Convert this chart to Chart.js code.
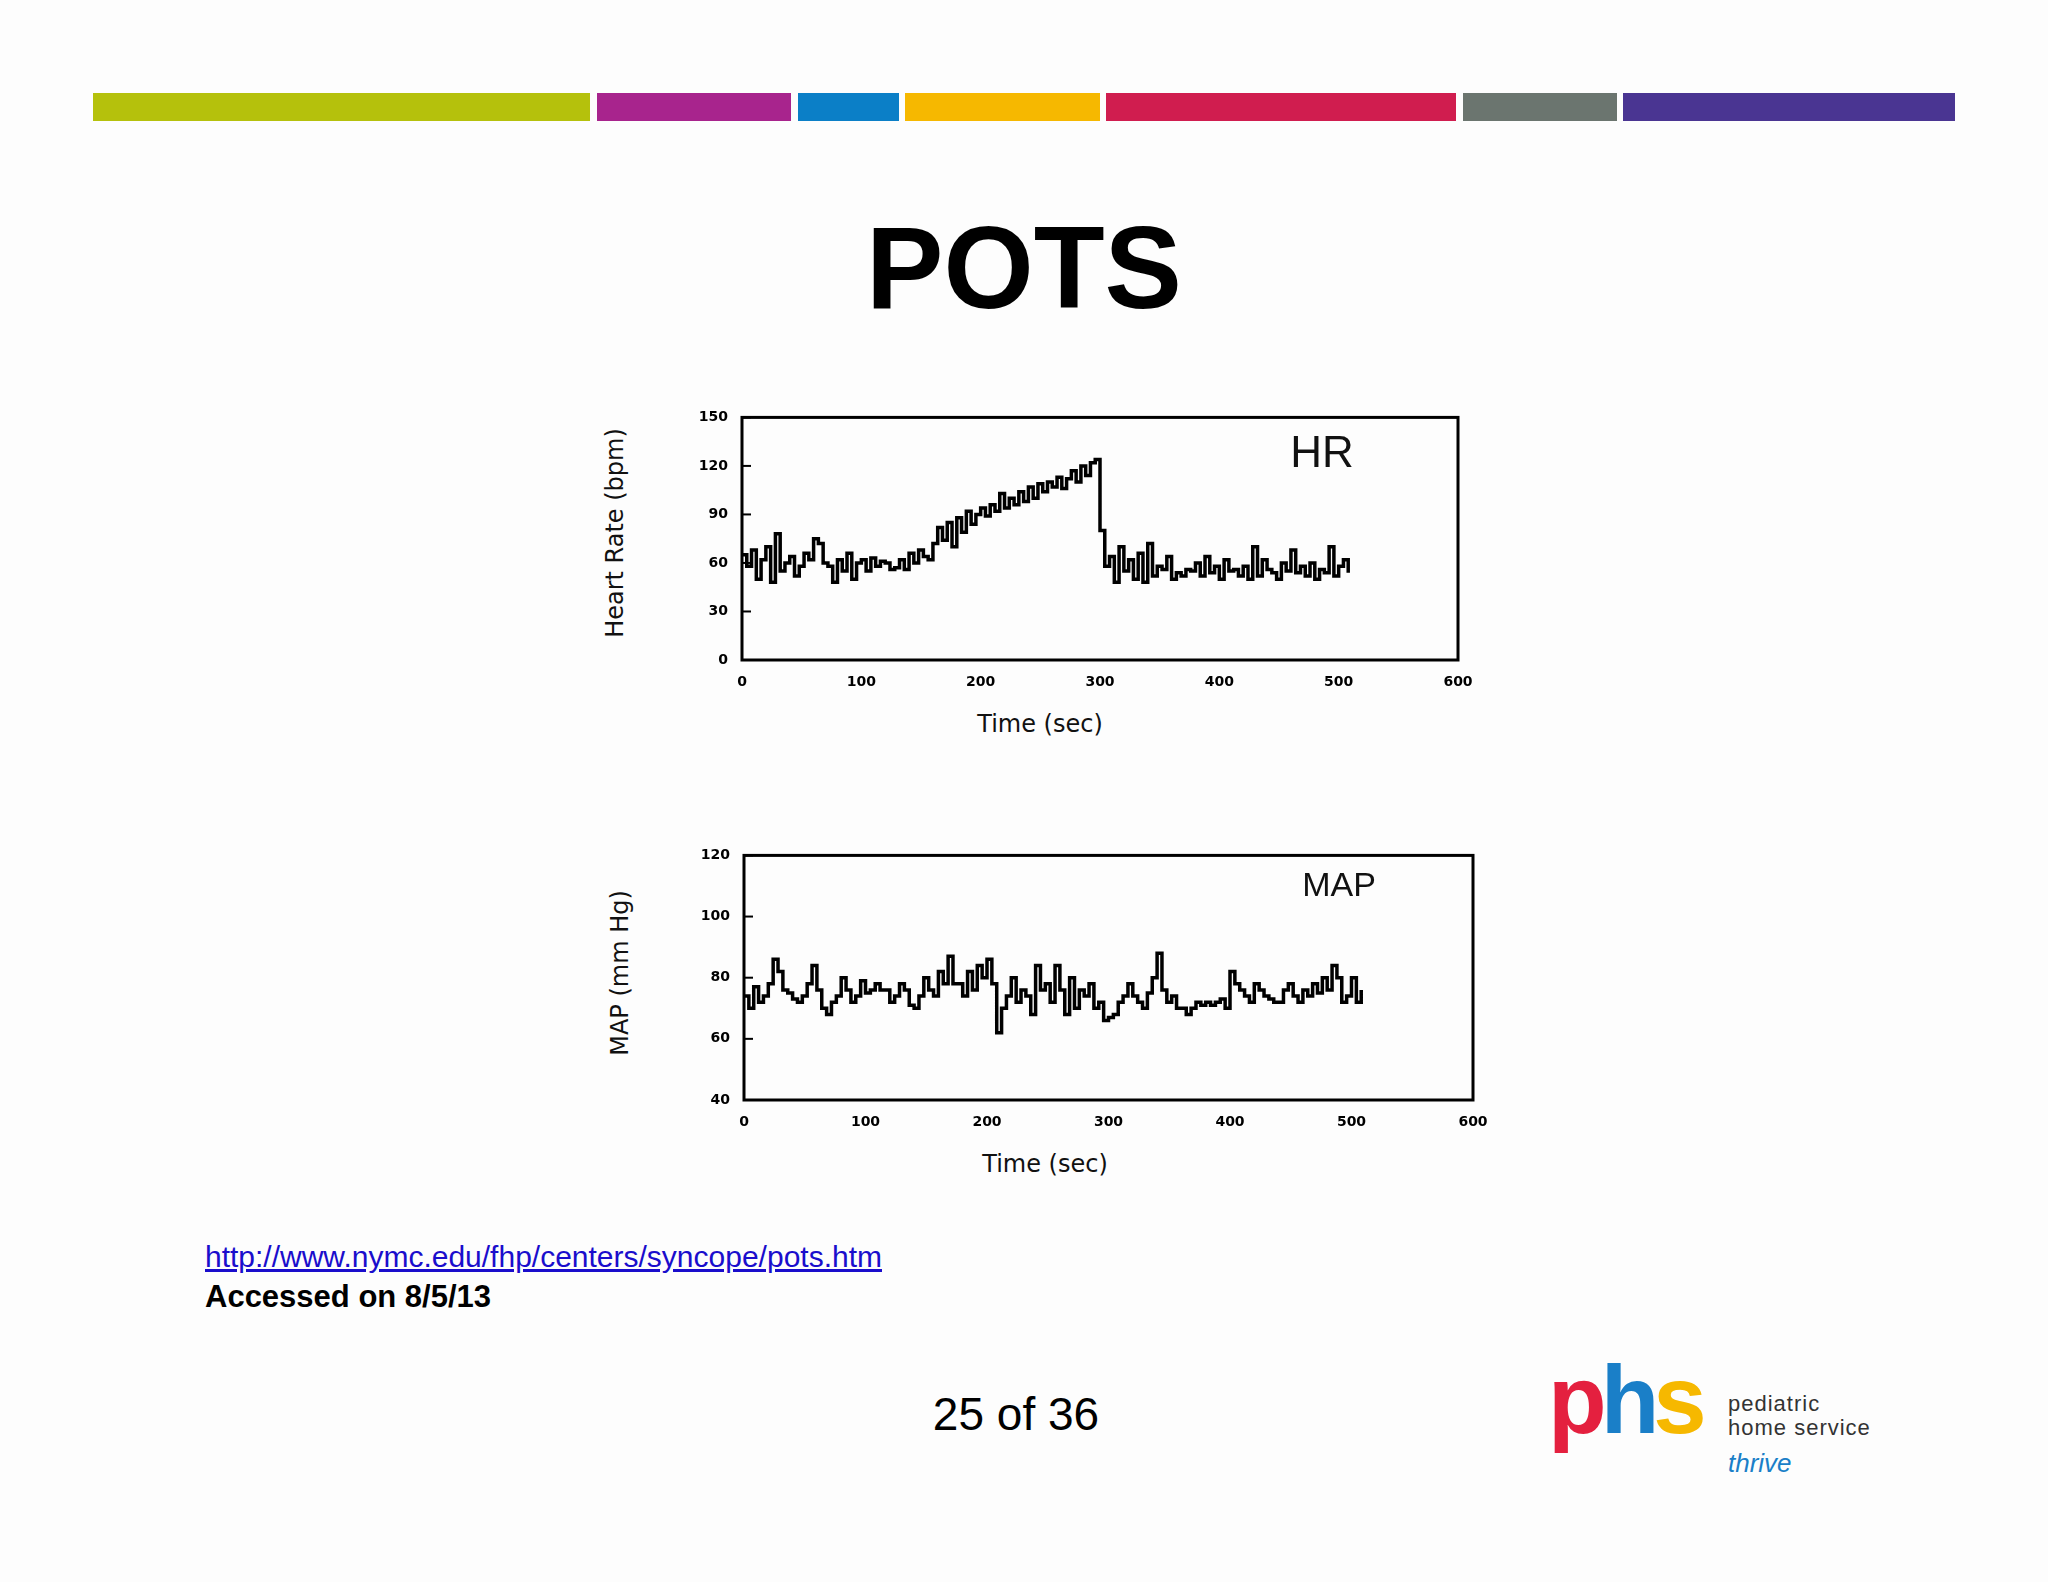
<!DOCTYPE html>
<html><head><meta charset="utf-8">
<script src="https://cdn.jsdelivr.net/npm/chart.js@4.4.0/dist/chart.umd.min.js"></script>
<style>
body{margin:0;width:2048px;height:1582px;background:#fdfdfd;font-family:"Liberation Sans",Arial,sans-serif;position:relative;overflow:hidden}
.abs{position:absolute}
.seg{position:absolute;top:93px;height:28px}
.rot{position:absolute;transform:translate(-50%,-50%) rotate(-90deg);white-space:nowrap;font-family:"DejaVu Sans",sans-serif;font-size:24px;color:#111}
.c{position:absolute;transform:translate(-50%,-50%);white-space:nowrap}
.ax{font-family:"DejaVu Sans",sans-serif;font-size:24px;color:#111}
</style></head><body>
<div class="seg" style="left:93px;width:497px;background:#b5c10c"></div>
<div class="seg" style="left:597px;width:194px;background:#a8248d"></div>
<div class="seg" style="left:798px;width:101px;background:#0b7fc7"></div>
<div class="seg" style="left:905px;width:195px;background:#f6b800"></div>
<div class="seg" style="left:1106px;width:350px;background:#d01d4f"></div>
<div class="seg" style="left:1463px;width:154px;background:#6b756f"></div>
<div class="seg" style="left:1623px;width:332px;background:#4a3592"></div>
<div class="c" style="left:1024px;top:268px;font-size:116px;font-weight:bold;color:#000">POTS</div>

<canvas id="hr" class="abs" style="left:680px;top:395px" width="810" height="300"></canvas>
<canvas id="map" class="abs" style="left:680px;top:833px" width="820" height="300"></canvas>

<div class="rot" style="left:615px;top:533px">Heart Rate (bpm)</div>
<div class="c ax" style="left:1040px;top:724px">Time (sec)</div>
<div class="c" style="left:1322px;top:452px;font-size:44px;color:#111">HR</div>
<div class="rot" style="left:620px;top:973px">MAP (mm Hg)</div>
<div class="c ax" style="left:1045px;top:1164px">Time (sec)</div>
<div class="c" style="left:1339px;top:884px;font-size:34px;color:#111">MAP</div>

<div class="abs" style="left:205px;top:1240px;font-size:30px;color:#1a0dcc;text-decoration:underline">http://www.nymc.edu/fhp/centers/syncope/pots.htm</div>
<div class="abs" style="left:205px;top:1279px;font-size:31px;font-weight:bold;color:#000">Accessed on 8/5/13</div>
<div class="c" style="left:1016px;top:1414px;font-size:46px;color:#000">25 of 36</div>
<div class="abs" style="left:1548px;top:1345px;font-size:96px;font-weight:bold;letter-spacing:-6px"><span style="color:#e4203f">p</span><span style="color:#1a7fc8">h</span><span style="color:#f6b800">s</span></div>
<div class="abs" style="left:1728px;top:1392px;font-size:22px;line-height:24px;color:#333;letter-spacing:1px">pediatric<br>home service</div>
<div class="abs" style="left:1728px;top:1448px;font-size:26px;font-style:italic;color:#1a7fc8">thrive</div>

<script>
const timeStep = 4;
const hrValues = [
65,58,68,50,62,70,48,78,55,60,
64,52,58,66,62,75,72,60,58,48,
62,55,66,50,60,62,55,63,58,61,
60,56,57,62,56,66,60,68,64,62,
72,82,74,85,70,88,79,92,84,90,
94,89,96,92,103,94,100,96,104,98,
107,100,109,104,110,107,113,106,112,117,
110,120,114,122,124,
80,58,64,48,70,55,62,50,66,48,
72,52,58,56,64,50,54,52,56,55,
60,52,64,54,58,50,62,55,56,52,
58,50,70,52,62,56,54,50,60,55,
68,54,58,52,60,50,56,54,70,52,
58,62,54];
const mapValues = [
74,70,77,72,74,78,86,82,76,75,
73,72,74,78,84,76,70,68,72,74,
80,76,72,74,79,75,76,78,76,76,
72,74,78,76,71,70,74,80,76,74,
82,78,87,78,78,74,82,76,84,80,
86,78,62,70,74,80,72,76,74,68,
84,76,78,72,84,76,68,80,70,76,
74,78,70,72,66,
67,68,72,74,78,74,72,70,75,80,
88,76,72,74,70,70,68,70,72,71,
72,71,72,73,70,82,78,76,74,72,
78,76,74,73,72,72,76,78,74,72,
76,74,78,75,80,76,84,80,72,74,
80,72,76];
const xTicks = [0,100,200,300,400,500,600];
const hrTicks = [0,30,60,90,120,150];
const mapTicks = [40,60,80,100,120];

const boxPlugin = {id:'box', afterDraw(c){const a=c.chartArea,x=c.ctx;x.save();x.strokeStyle='#000';x.lineWidth=3;x.strokeRect(a.left,a.top,a.right-a.left,a.bottom-a.top);x.restore();}};

function make(id, vals, yTicks, yw, padR, padT, xh){
  const pts = vals.map((v,i)=>({x:i*timeStep,y:v}));
  new Chart(document.getElementById(id),{
    type:'line',
    data:{datasets:[{data:pts,borderColor:'#000',borderWidth:3.5,pointRadius:0,stepped:true,fill:false}]},
    options:{responsive:false,animation:false,
      layout:{padding:{top:padT,right:padR,left:0,bottom:0}},
      plugins:{legend:{display:false},tooltip:{enabled:false}},
      scales:{
        x:{type:'linear',min:0,max:600,afterBuildTicks:s=>{s.ticks=xTicks.map(v=>({value:v}));},
           afterFit:s=>{s.height=xh;},
           grid:{display:false},border:{display:false},
           ticks:{color:'#000',font:{size:14,weight:'bold',family:'DejaVu Sans'},padding:6,maxRotation:0}},
        y:{min:yTicks[0],max:yTicks[yTicks.length-1],afterBuildTicks:s=>{s.ticks=yTicks.map(v=>({value:v}));},
           afterFit:s=>{s.width=yw;},
           grid:{drawOnChartArea:false,drawTicks:false},border:{display:false},
           ticks:{color:'#000',font:{size:14,weight:'bold',family:'DejaVu Sans'},padding:14}}
      }},
    plugins:[boxPlugin,{id:'ytick',afterDraw(c){const x=c.ctx,a=c.chartArea,s=c.scales.y;x.save();x.strokeStyle='#000';x.lineWidth=2;yTicks.forEach(v=>{const y=s.getPixelForValue(v);x.beginPath();x.moveTo(a.left,y);x.lineTo(a.left+9,y);x.stroke();});x.restore();}}]
  });
}
make('hr', hrValues, hrTicks, 62, 32, 11, 35);
make('map', mapValues, mapTicks, 64, 27, 16, 33);
</script>
</body></html>
